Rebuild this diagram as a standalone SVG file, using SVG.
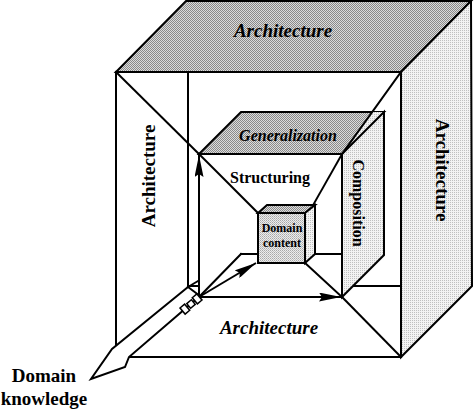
<svg xmlns="http://www.w3.org/2000/svg" width="474" height="410" viewBox="0 0 474 410">
<defs>
<style>
.ln{fill:none;stroke:#000;stroke-width:2;stroke-linecap:square}
.ar{fill:none;stroke:#000;stroke-width:2;stroke-linecap:butt}
.dark{fill:url(#pd);stroke:#000;stroke-width:2;stroke-linejoin:miter}
.light{fill:url(#pl);stroke:#000;stroke-width:2;stroke-linejoin:miter}
.mid{fill:url(#pm);stroke:#000;stroke-width:2;stroke-linejoin:miter}
.wh{fill:#fff;stroke:#000;stroke-width:2;stroke-linejoin:miter}
text{font-family:'Liberation Serif','DejaVu Serif',serif;font-weight:bold;fill:#000;text-anchor:middle}
.i{font-style:italic}
</style>
<pattern id="pd" width="2" height="2" patternUnits="userSpaceOnUse"><rect width="2" height="2" fill="#dcdcdc"/><rect width="1" height="1" fill="#8a8a8a"/><rect x="1" y="1" width="1" height="1" fill="#8a8a8a"/></pattern>
<pattern id="pl" width="2" height="2" patternUnits="userSpaceOnUse"><rect width="2" height="2" fill="#f3f3f3"/><rect width="1" height="1" fill="#c0c0c0"/></pattern>
<pattern id="pm" width="2" height="2" patternUnits="userSpaceOnUse"><rect width="2" height="2" fill="#ececec"/><rect width="1" height="1" fill="#a8a8a8"/><rect x="1" y="1" width="1" height="1" fill="#c0c0c0"/></pattern>
<marker id="ah" viewBox="0 0 22 9" refX="22" refY="4.5" markerWidth="22" markerHeight="9" markerUnits="userSpaceOnUse" orient="auto"><path d="M0,0 L22,4.5 L0,9 L3,4.5 z" fill="#000"/></marker>
</defs>
<rect width="474" height="410" fill="#fff"/>

<g id="outer-cube">
<polygon class="dark" points="116,72 186,1 471,1 401,72"/>
<polygon class="light" points="401,72 471,1 472,286 401,357"/>
<rect class="ln" x="116" y="72" width="285" height="285"/>
<line class="ln" x1="188" y1="72" x2="188" y2="286"/>
<line class="ln" x1="188" y1="286" x2="401" y2="286"/>
</g>

<g id="inner-box">
<rect x="199" y="154" width="143" height="143" fill="#fff"/>
<polygon class="dark" points="199,154 241,112 384,112 342,154"/>
<polygon points="342,154 372,112 384,112" fill="url(#pl)"/>
<polygon class="light" points="342,154 384,112 384,255 342,297"/>
</g>

<g id="connectors">
<line class="ln" x1="116" y1="72" x2="199" y2="154"/>
<line class="ln" x1="401" y1="72" x2="342" y2="154"/>
<line class="ln" x1="401" y1="357" x2="342" y2="297"/>
<line class="ln" x1="199" y1="297" x2="241" y2="254"/>
<line class="ln" x1="241" y1="254" x2="258" y2="254"/>
<line class="ln" x1="315" y1="254" x2="342" y2="254"/>
<line class="ln" x1="199" y1="154" x2="258" y2="213"/>
<line class="ln" x1="342" y1="154" x2="312" y2="207"/>
<line class="ln" x1="342" y1="297" x2="305" y2="263"/>
<line class="ar" x1="199" y1="297" x2="199" y2="155" marker-end="url(#ah)"/>
<line class="ar" x1="199" y1="297" x2="341" y2="297" marker-end="url(#ah)"/>
<line class="ar" x1="199" y1="297" x2="256" y2="263" marker-end="url(#ah)"/>
</g>

<g id="domain-content">
<polygon class="dark" points="258,213 267,205 315,205 305,213"/>
<polygon class="light" points="305,213 315,205 315,254 305,263"/>
<rect class="mid" x="258" y="213" width="47" height="50"/>
<text x="282" y="232" font-size="12" font-family="Liberation Serif, serif">Domain</text>
<text x="282" y="247" font-size="12" font-family="Liberation Serif, serif">content</text>
</g>

<g id="domain-knowledge-arrow">
<polygon class="wh" points="188,287 112,349 91,379 125,367 129,357 200,296"/>
<line class="ln" x1="188" y1="287" x2="198" y2="281"/>
<g transform="translate(191,304) rotate(-40)" fill="#fff" stroke="#000" stroke-width="1.5">
<rect x="-11" y="-4" width="6" height="8"/>
<rect x="-3" y="-3" width="6" height="6"/>
<rect x="5" y="-4" width="6" height="8"/>
</g>
</g>

<g id="labels">
<text class="i" x="283" y="37" font-size="19" font-family="Liberation Serif, serif">Architecture</text>
<text transform="translate(155,176) rotate(-90)" font-size="19" font-family="Liberation Serif, serif">Architecture</text>
<text transform="translate(436,170) rotate(90)" font-size="19" font-family="Liberation Serif, serif">Architecture</text>
<text class="i" x="269" y="334" font-size="19" font-family="Liberation Serif, serif">Architecture</text>
<text class="i" x="288" y="141" font-size="16" font-family="Liberation Serif, serif">Generalization</text>
<text x="270" y="183" font-size="16" font-family="Liberation Serif, serif">Structuring</text>
<text transform="translate(353,203) rotate(90)" font-size="16" font-family="Liberation Serif, serif">Composition</text>
<text x="44" y="382" font-size="19" font-family="Liberation Serif, serif">Domain</text>
<text x="44" y="405" font-size="19" font-family="Liberation Serif, serif">knowledge</text>
</g>
</svg>
